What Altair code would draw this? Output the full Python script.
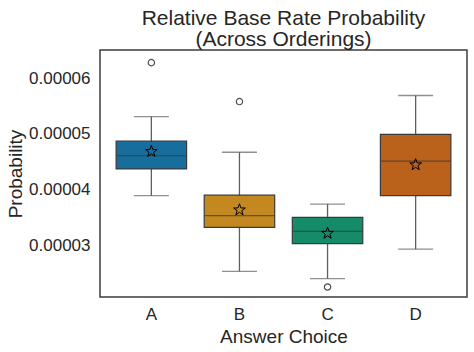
import math
import altair as alt
import pandas as pd

# ---- data ----
choices = ["A", "B", "C", "D"]
whisker_lo = [3.89e-5, 2.53e-5, 2.40e-5, 2.93e-5]
q1 = [4.37e-5, 3.32e-5, 3.03e-5, 3.89e-5]
median = [4.61e-5, 3.53e-5, 3.25e-5, 4.51e-5]
q3 = [4.87e-5, 3.90e-5, 3.50e-5, 4.99e-5]
whisker_hi = [5.31e-5, 4.67e-5, 3.74e-5, 5.69e-5]
means = [4.69e-5, 3.64e-5, 3.22e-5, 4.45e-5]
outlier_choice = ["A", "B", "C"]
outlier_value = [6.28e-5, 5.58e-5, 2.25e-5]
tick_values = [3e-5, 4e-5, 5e-5, 6e-5]
colors = ["#176d9c", "#c38820", "#168b6a", "#ba611b"]

box_df = pd.DataFrame({
    "choice": choices, "lo": whisker_lo, "q1": q1, "med": median,
    "q3": q3, "hi": whisker_hi, "mean": means,
})
out_df = pd.DataFrame({"choice": outlier_choice, "value": outlier_value})

# star symbol path
pts = []
for k in range(10):
    r = 1.0 if k % 2 == 0 else 0.40
    a = math.radians(-90 + 36 * k)
    pts.append(f"{r*math.cos(a):.3f},{r*math.sin(a)+0.05:.3f}")
star = "M" + " L".join(pts) + " Z"

FONT = "Liberation Sans"
TXT = "#262626"
xscale = alt.Scale(domain=choices, paddingInner=0, paddingOuter=0.083)
yscale = alt.Scale(domain=[2.07e-5, 6.507e-5], nice=False, zero=False)

x_enc = alt.X("choice:N", scale=xscale, sort=choices,
              axis=alt.Axis(title="Answer Choice", labelAngle=0, ticks=False, domain=False,
                            labelFontSize=17, labelPadding=9, labelColor=TXT,
                            titleFontSize=19, titleFontWeight="normal", titleColor=TXT,
                            titleBaseline="alphabetic", titleY=45))
y_axis = alt.Axis(title="Probability", values=tick_values, format=".5f", ticks=False,
                  domain=False, grid=False, labelFontSize=17, labelPadding=10,
                  labelColor=TXT, titleFontSize=19, titleFontWeight="normal",
                  titleColor=TXT, titleBaseline="alphabetic", titleX=-79, titleAngle=270)

color_enc = alt.Color("choice:N", scale=alt.Scale(domain=choices, range=colors), legend=None)

base = alt.Chart(box_df)

whiskers = base.mark_rule(color="#5f5f5f", strokeWidth=1.3).encode(
    x=x_enc, y=alt.Y("lo:Q", scale=yscale, axis=y_axis), y2="hi:Q")
caps_lo = base.mark_tick(color="#5f5f5f", size=35, thickness=1.3).encode(
    x="choice:N", y="lo:Q")
caps_hi = base.mark_tick(color="#5f5f5f", size=35, thickness=1.3).encode(
    x="choice:N", y="hi:Q")
boxes = base.mark_bar(width=alt.RelativeBandSize(0.8), stroke="#3a3a3a", strokeWidth=1.2).encode(
    x="choice:N", y="q1:Q", y2="q3:Q", color=color_enc)
meds = base.mark_tick(color="#3a3a3a", size=70, thickness=1.3).encode(
    x="choice:N", y="med:Q")
stars = base.mark_point(shape=star, size=150, filled=False, stroke="black", strokeWidth=1,
                        opacity=1).encode(x="choice:N", y="mean:Q")
outs = alt.Chart(out_df).mark_point(shape="circle", size=40, filled=False, stroke="#4d4d4d",
                                    strokeWidth=1.2, opacity=1).encode(
    x="choice:N", y="value:Q")

chart = alt.layer(whiskers, caps_lo, caps_hi, boxes, meds, stars, outs).properties(
    width=367, height=247,
    title=alt.TitleParams(text=["Relative Base Rate Probability", "(Across Orderings)"],
                          fontSize=21, font=FONT, fontWeight="normal", color=TXT,
                          anchor="middle", lineHeight=21, offset=0),
    autosize=alt.AutoSizeParams(type="none"),
    padding={"left": 100, "top": 50, "right": 7, "bottom": 55},
).configure(font=FONT, background="white").configure_view(
    stroke="#3d3d3d", strokeWidth=1.5
).configure_axis(labelFont=FONT, titleFont=FONT)

chart.save("out.html", embed_options={"renderer": "svg", "actions": False})
